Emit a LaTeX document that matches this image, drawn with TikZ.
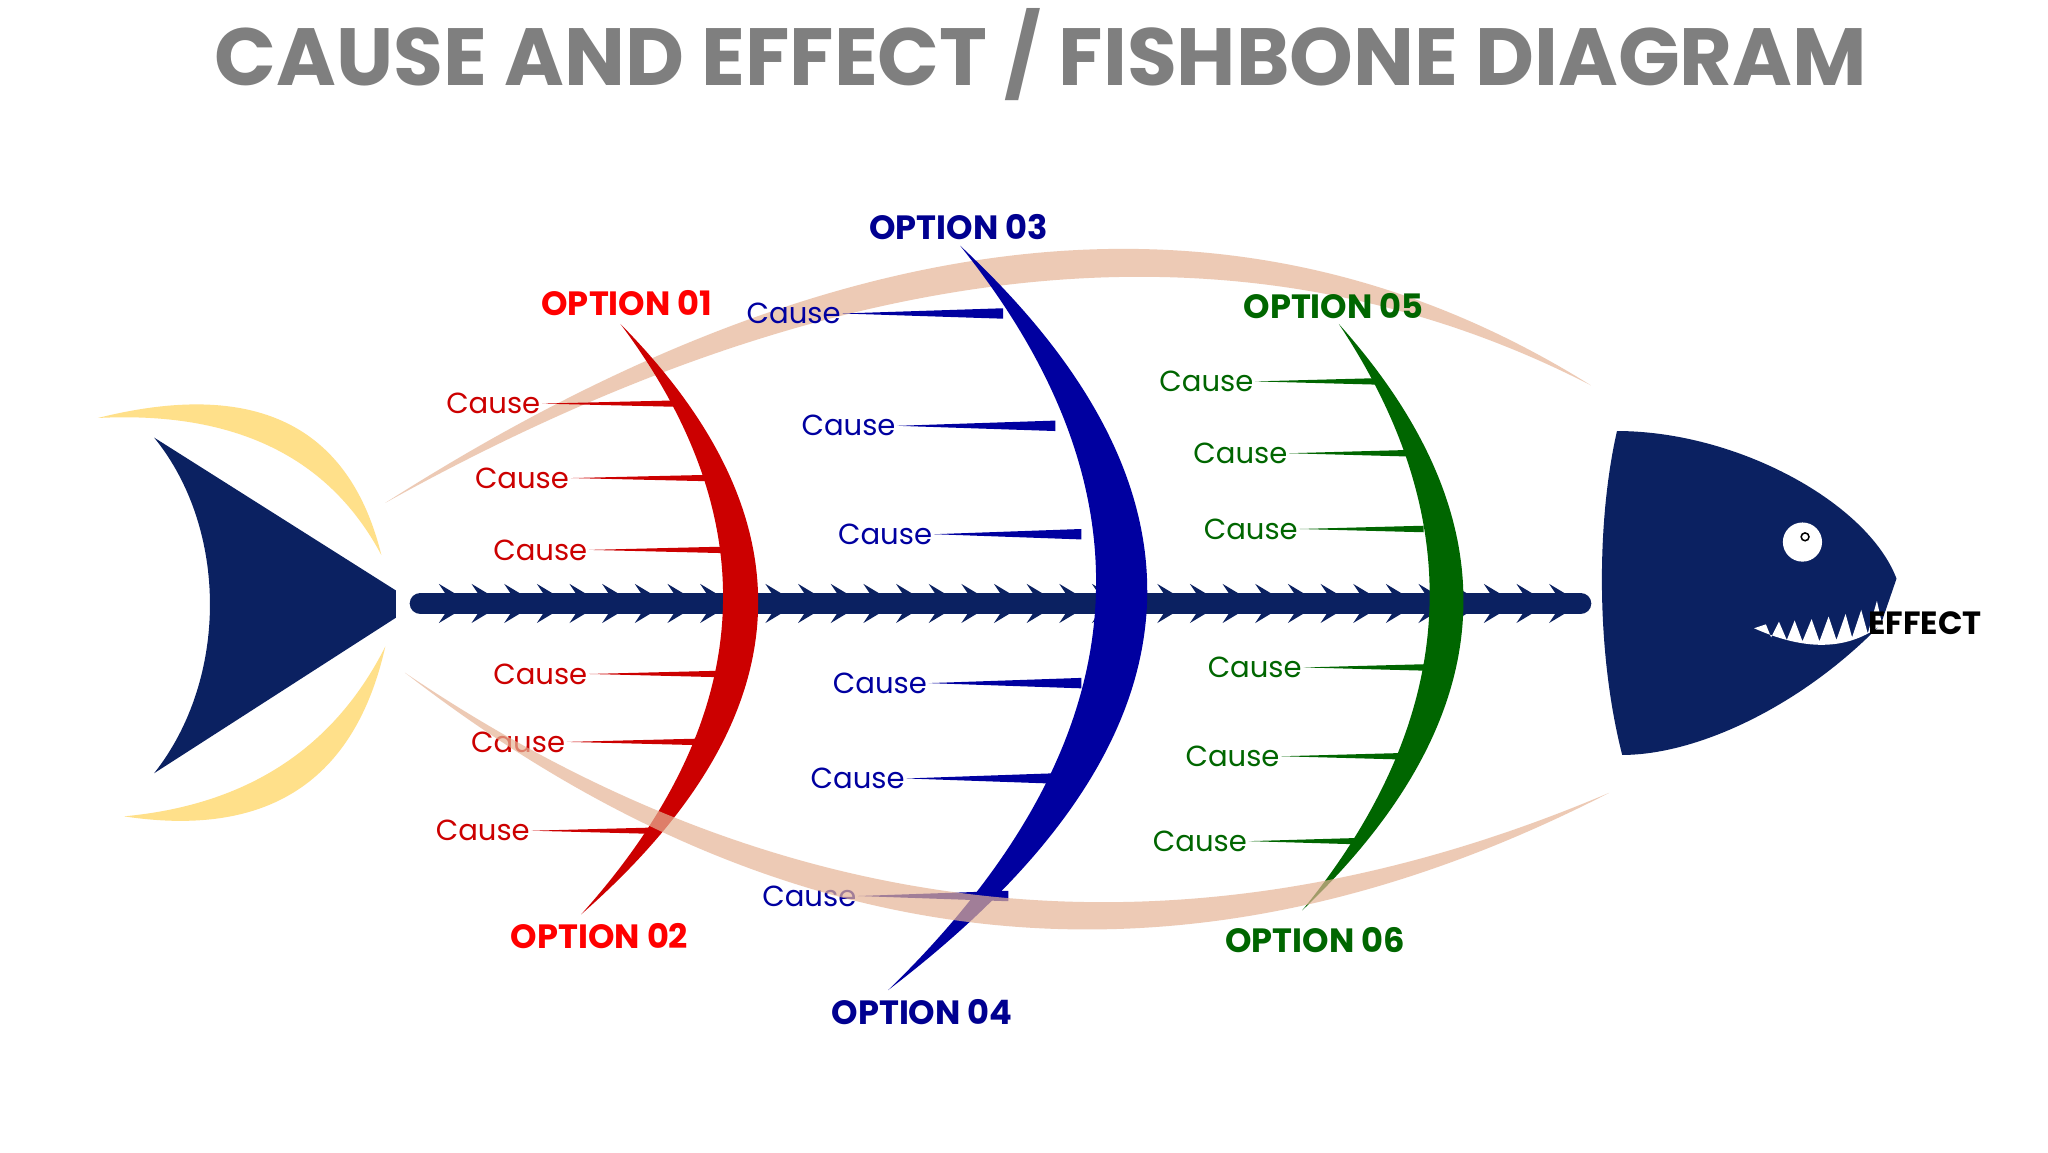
\documentclass[tikz,border=0pt]{standalone}
\usepackage{fontspec}
\setmainfont{Poppins}
\usetikzlibrary{calc}
\definecolor{navy}{HTML}{0B2161}
\definecolor{cred}{HTML}{CC0000}
\definecolor{cblue}{HTML}{0000A0}
\definecolor{cgreen}{HTML}{006600}
\definecolor{peach}{HTML}{E6B496}
\definecolor{tyellow}{HTML}{FFE08A}
\definecolor{tgray}{HTML}{7F7F7F}
\newcommand{\quadcres}[6]{% start, end, ctrl outer, ctrl inner, color, opacity
 \fill[#5,opacity=#6] (#1) .. controls ($(#1)!2/3!(#3)$) and ($(#2)!2/3!(#3)$) .. (#2)
   .. controls ($(#2)!2/3!(#4)$) and ($(#1)!2/3!(#4)$) .. (#1) -- cycle;}
\newcommand{\cause}[6]{% name,x,y,xend,color,halfwidth
 \node[causelbl,text=#5] (#1) at (#2,#3) {Cause};
 \fill[#5] (#1.east) -- (#4,#3-#6) -- (#4,#3+#6) -- cycle;}
\tikzset{causelbl/.style={anchor=east,inner sep=1pt,font=\fontsize{19}{20}\selectfont},
 opt/.style={font=\bfseries\fontsize{22}{24}\selectfont,inner sep=0pt}}
\begin{document}
\begin{tikzpicture}[x=0.03cm,y=-0.03cm]
\useasboundingbox (0,0) rectangle (1568,882);
\fill[white] (0,0) rectangle (1568,882);
\node[font=\bfseries\fontsize{53}{56}\selectfont,text=tgray] (title) at (797,42) {CAUSE AND EFFECT / FISHBONE DIAGRAM};
% top peach arc
\quadcres{295,385}{1218,295}{823,48}{823,92}{peach}{0.7}
% tail
\fill[navy] (118,335) -- (303,452) -- (303,473) -- (118,592) .. controls (175,520) and (175,405) .. (118,335) -- cycle;
\quadcres{75,320}{292,425}{255,275}{232,312}{tyellow}{1}
\quadcres{95,625}{295,495}{260,650}{236,612}{tyellow}{1}
% spine
\draw[navy,line width=0.5cm,line cap=round] (322,462) coordinate (sp1) -- (1210,462) coordinate (sp2);
\foreach \x in {345,370,...,1200}{
 \fill[navy] (\x-9,447) -- (\x+6,456) -- (\x-3,456) -- cycle;
 \fill[navy] (\x-9,477) -- (\x+6,468) -- (\x-3,468) -- cycle;}
% head
\fill[navy] (1238,330) .. controls (1330,330) and (1430,385) .. (1452,443) -- (1440,478)
  .. controls (1380,540) and (1300,578) .. (1242,578) .. controls (1222,500) and (1222,400) .. (1238,330) -- cycle;
\fill[white] (1343,481) -- (1352,478) -- (1356,488) -- (1362,476) -- (1368,490) -- (1374,475) -- (1380,491) -- (1387,474) -- (1393,491) -- (1400,472) -- (1406,490) -- (1413,470) -- (1418,488) -- (1425,467) -- (1430,485) -- (1437,460) -- (1441,478)
  .. controls (1420,494) and (1390,502) .. (1343,481) -- cycle;
\fill[white] (1380,415) circle (15);
\draw[black,line width=1pt] (1382,411) circle (3);
\node[font=\bfseries\fontsize{21}{22}\selectfont,anchor=west,inner sep=0pt] (effect) at (1430,477) {EFFECT};
% causes red
\cause{r1}{415}{309}{520}{cred}{2.5}
\cause{r2}{437}{366}{545}{cred}{2.5}
\cause{r3}{451}{421}{555}{cred}{2.5}
\cause{r4}{451}{516}{552}{cred}{2.5}
\cause{r5}{434}{568}{535}{cred}{2.5}
\cause{r6}{407}{636}{503}{cred}{2.5}
% causes blue
\cause{b1}{645}{240}{768}{cblue}{4}
\cause{b2}{687}{326}{808}{cblue}{4}
\cause{b3}{715}{409}{828}{cblue}{4}
\cause{b4}{711}{523}{828}{cblue}{4}
\cause{b5}{694}{596}{808}{cblue}{4}
\cause{b6}{657}{686}{772}{cblue}{4}
% causes green
\cause{g1}{961}{292}{1055}{cgreen}{2.5}
\cause{g2}{987}{347}{1078}{cgreen}{2.5}
\cause{g3}{995}{405}{1090}{cgreen}{2.5}
\cause{g4}{998}{511}{1092}{cgreen}{2.5}
\cause{g5}{981}{579}{1074}{cgreen}{2.5}
\cause{g6}{956}{644}{1042}{cgreen}{2.5}
% ribs
\quadcres{475,248}{445,700}{700,476}{646,476}{cred}{1}
\quadcres{735,188}{680,758}{1047,478}{968,478}{cblue}{1}
\quadcres{1025,248}{997,697}{1229,476}{1177,476}{cgreen}{1}
% bottom peach arc
\quadcres{310,515}{1232,607}{749,855}{749,812}{peach}{0.7}
% option labels
\node[opt,text=red] (o1) at (480,232) {OPTION 01};
\node[opt,text=red] (o2) at (459,717) {OPTION 02};
\node[opt,text=cblue!90!black] (o3) at (734,174) {OPTION 03};
\node[opt,text=cblue!90!black] (o4) at (706,775) {OPTION 04};
\node[opt,text=cgreen] (o5) at (1021,234) {OPTION 05};
\node[opt,text=cgreen] (o6) at (1007,720) {OPTION 06};
\end{tikzpicture}
\end{document}
